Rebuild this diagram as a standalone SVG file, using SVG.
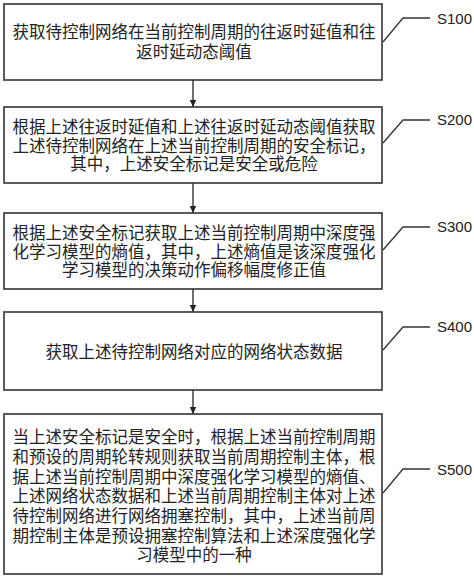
<svg xmlns="http://www.w3.org/2000/svg" width="474" height="579" viewBox="0 0 474 579">
<defs>
<marker id="ah" markerWidth="8" markerHeight="8" refX="7" refY="4" orient="auto" markerUnits="userSpaceOnUse">
<path d="M0,0.8 L7,4 L0,7.2 Z" fill="#222"/>
</marker>
<style>
.box{fill:#fff;stroke:#333;stroke-width:1.6}
.t{font-family:"Noto Sans CJK SC","Noto Sans",sans-serif;font-size:16.5px;fill:#222;text-anchor:middle}
.lab{font-family:"Liberation Sans","Noto Sans",sans-serif;font-size:15px;fill:#222}
.ld{fill:none;stroke:#333;stroke-width:1.3}
.cn{stroke:#222;stroke-width:1.3;fill:none}
</style>
</defs>
<rect width="474" height="579" fill="#fff"/>
<g id="connectors">
<line class="cn" x1="193" y1="80" x2="193" y2="107" marker-end="url(#ah)"/>
<line class="cn" x1="193" y1="183" x2="193" y2="213" marker-end="url(#ah)"/>
<line class="cn" x1="193" y1="289" x2="193" y2="312" marker-end="url(#ah)"/>
<line class="cn" x1="193" y1="390" x2="193" y2="414" marker-end="url(#ah)"/>
</g>
<g id="S100">
<rect class="box" x="4" y="4" width="378" height="76"/>
<text class="t" x="194" y="38">获取待控制网络在当前控制周期的往返时延值和往</text>
<text class="t" x="194" y="58">返时延动态阈值</text>
<polyline class="ld" points="383,42 403,18 430,18"/>
<text class="lab" x="437" y="24">S100</text>
</g>
<g id="S200">
<rect class="box" x="4" y="107" width="378" height="76"/>
<text class="t" x="194" y="133">根据上述往返时延值和上述往返时延动态阈值获取</text>
<text class="t" x="194" y="152">上述待控制网络在上述当前控制周期的安全标记，</text>
<text class="t" x="194" y="170">其中，上述安全标记是安全或危险</text>
<polyline class="ld" points="383,143 403,120 430,120"/>
<text class="lab" x="437" y="125">S200</text>
</g>
<g id="S300">
<rect class="box" x="4" y="213" width="378" height="76"/>
<text class="t" x="194" y="239">根据上述安全标记获取上述当前控制周期中深度强</text>
<text class="t" x="194" y="258">化学习模型的熵值，其中，上述熵值是该深度强化</text>
<text class="t" x="194" y="276">学习模型的决策动作偏移幅度修正值</text>
<polyline class="ld" points="383,250 403,227 430,227"/>
<text class="lab" x="437" y="232">S300</text>
</g>
<g id="S400">
<rect class="box" x="4" y="312" width="378" height="78"/>
<text class="t" x="194" y="358">获取上述待控制网络对应的网络状态数据</text>
<polyline class="ld" points="383,350 403,327 430,327"/>
<text class="lab" x="437" y="332">S400</text>
</g>
<g id="S500">
<rect class="box" x="4" y="414" width="378" height="160"/>
<text class="t" x="194" y="443">当上述安全标记是安全时，根据上述当前控制周期</text>
<text class="t" x="194" y="463">和预设的周期轮转规则获取当前周期控制主体，根</text>
<text class="t" x="194" y="483">据上述当前控制周期中深度强化学习模型的熵值、</text>
<text class="t" x="194" y="502">上述网络状态数据和上述当前周期控制主体对上述</text>
<text class="t" x="194" y="522">待控制网络进行网络拥塞控制，其中，上述当前周</text>
<text class="t" x="194" y="542">期控制主体是预设拥塞控制算法和上述深度强化学</text>
<text class="t" x="194" y="561">习模型中的一种</text>
<polyline class="ld" points="383,493 403,469 430,469"/>
<text class="lab" x="437" y="475">S500</text>
</g>
</svg>
